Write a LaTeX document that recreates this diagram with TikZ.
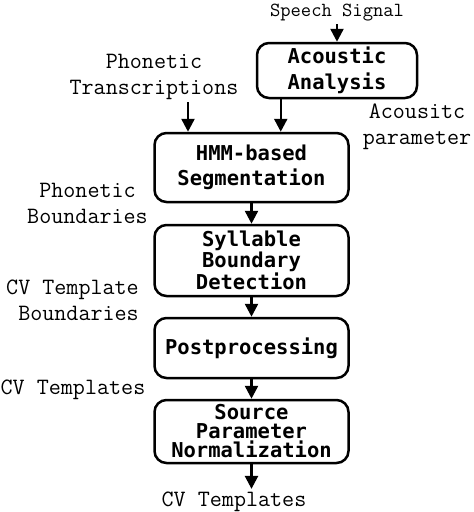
\documentclass[tikz,border=0pt]{standalone}
\usepackage{fontspec}
\newfontfamily\boxfont{DejaVu Sans Mono}
\usetikzlibrary{positioning}
\usetikzlibrary{arrows.meta}
\tikzset{
    stage/.style = {rectangle, rounded corners=12pt, draw, minimum width=194pt,
        align=center, inner sep=2pt, font=\boxfont\bfseries\fontsize{20.5}{19}\selectfont},
    loose/.style = {font=\boxfont\bfseries\fontsize{20.5}{25.5}\selectfont},
    tag/.style = {align=center, inner sep=2pt, font=\ttfamily\fontsize{23.4}{26}\selectfont}}
\begin{document}
\begin{tikzpicture}[-{Triangle[length=13pt,width=13pt]}, line width=2.5pt,
    node distance = 90pt and 80pt, on grid]
    \useasboundingbox (0,0) rectangle (474pt,-512pt);
    \node (AA) [stage, loose, minimum width=160pt, minimum height=55pt] at (337pt,-70.5pt) {Acoustic\\Analysis};
    \node (SS) [tag, font=\ttfamily\fontsize{20}{20}\selectfont, above = 58pt of AA] {Speech Signal};
    \node (PT) [tag, below left = 6pt and 183pt of AA] {Phonetic\\Transcriptions};
    \node (AP) [tag, below right = 56pt and 80pt of AA] {Acousitc\\parameter};
    \node (HMM) [stage, loose, minimum height=69pt, below left = 97pt and 85.5pt of AA] {HMM-based\\Segmentation};
    \node (PB) [tag, below left = 36pt and 164pt of HMM] {Phonetic\\Boundaries};
    \node (SYL) [stage, minimum height=71pt, below = 93pt of HMM] {Syllable\\Boundary\\Detection};
    \node (CTB) [tag, align=right, below left = 39.5pt and 179pt of SYL] {CV Template\\Boundaries};
    \node (POST) [stage, minimum height=60pt, below = 87.5pt of SYL] {Postprocessing};
    \node (CVT) [tag, below left = 42pt and 178.5pt of POST] {CV Templates};
    \node (SRC) [stage, minimum height=63pt, below = 83.5pt of POST] {Source\\Parameter\\Normalization};
    \node (OUT) [tag, below left = 70.5pt and 17.5pt of SRC] {CV Templates};
    \draw (SS) -- (AA);
    \draw ([xshift=34pt]PT.south) -- ([xshift=34pt]PT.south |- HMM.north);
    \draw ([xshift=25pt]AA.south west) -- ([xshift=25pt]AA.south west |- HMM.north);
    \draw (HMM) -- (SYL);
    \draw (SYL) -- (POST);
    \draw (POST) -- (SRC);
    \draw (SRC.south) -- (SRC.south |- OUT.north);
\end{tikzpicture}
\end{document}
